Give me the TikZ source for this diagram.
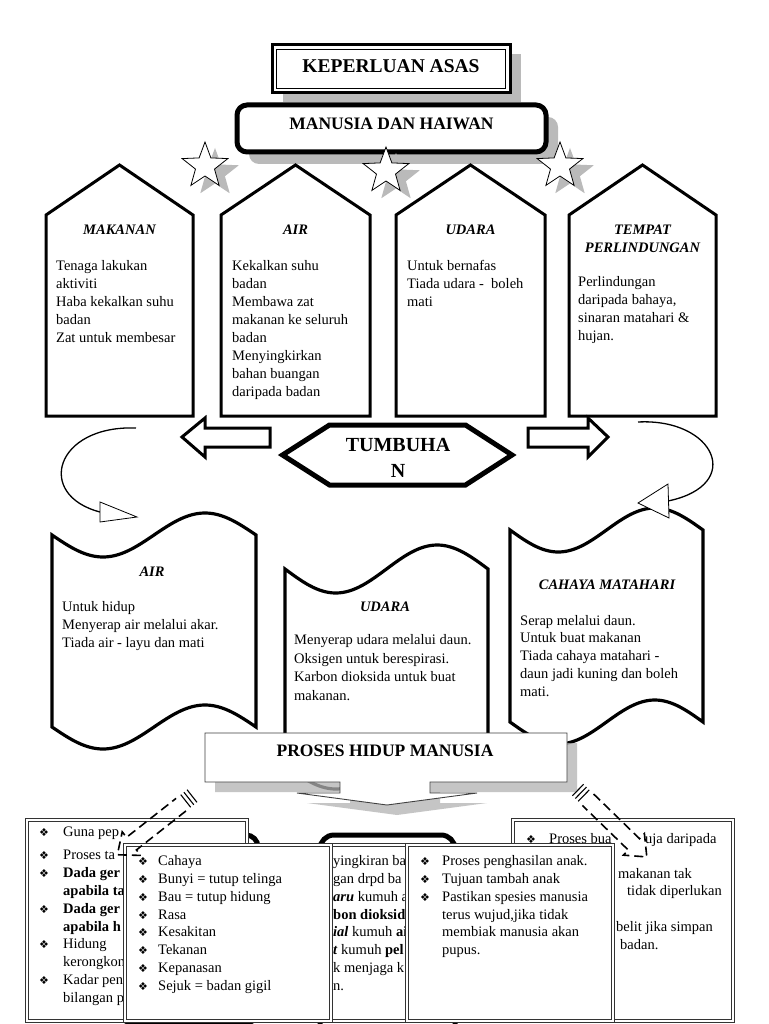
\documentclass[tikz,border=0pt]{standalone}
\usepackage{fontspec}
\setmainfont{Liberation Serif}
\newfontfamily\symfont{DejaVu Sans}
\usetikzlibrary{shapes.geometric}
\begin{document}
\begin{tikzpicture}[x=1pt,y=-1pt,
  house/.style={draw=black, line width=3pt, fill=white, line join=miter},
  wavebox/.style={draw=black, line width=3.2pt, fill=white},
  blockarrow/.style={draw=black, line width=3pt, fill=white, line join=miter},
  body/.style={font=\fontsize{14.5}{18}\selectfont, align=left, anchor=north west, inner sep=0pt},
  ttl/.style={font=\fontsize{14.5}{18}\selectfont\bfseries\itshape, align=center, inner sep=0pt},
  boldtitle/.style={font=\fontsize{17.5}{20}\selectfont\bfseries, inner sep=0pt},
  card/.style={draw=black!80, line width=1.1pt, double=white, double distance=2pt},
  ln/.style={font=\fontsize{14.5}{17.7}\selectfont, anchor=base west, inner sep=0pt},
  bul/.style={font=\symfont\fontsize{11}{11}\selectfont, anchor=base west, inner sep=0pt},
  shadowfill/.style={fill=black!27},
  dasharrow/.style={draw=black, line width=1.6pt, dash pattern=on 9pt off 5pt},
  openhead/.style={draw=black, line width=0.8pt, fill=white, line join=miter},
  curvline/.style={draw=black, line width=1.3pt},
]
\useasboundingbox (0,0) rectangle (768,1024);
\fill[white] (0,0) rectangle (768,1024);

% ---------- KEPERLUAN ASAS ----------
\fill[shadowfill] (283,54) rectangle (521,102);
\draw[line width=3pt, fill=white] (272,45) rectangle (510,93);
\draw[line width=1.2pt] (276.5,49.5) rectangle (505.5,88.5);
\node[font=\fontsize{19.5}{22}\selectfont\bfseries, inner sep=0pt] (keperluan) at (391,66) {KEPERLUAN ASAS};

% ---------- MANUSIA DAN HAIWAN ----------
\fill[shadowfill, rounded corners=10pt] (249,117) rectangle (558,164);
\draw[line width=5pt, fill=white, rounded corners=10pt] (237,105) rectangle (546,152);
\node[font=\fontsize{17.5}{20}\selectfont\bfseries, inner sep=0pt] (manusia) at (391.5,124) {MANUSIA DAN HAIWAN};

% ---------- houses ----------
\draw[house] (46,416) -- (46,215) -- (119.5,165) -- (193,215) -- (193,416) -- cycle;
\draw[house] (221,416) -- (221,215) -- (295.5,165) -- (370,215) -- (370,416) -- cycle;
\draw[house] (396,416) -- (396,215) -- (470.5,165) -- (545,215) -- (545,416) -- cycle;
\draw[house] (569,416) -- (569,215) -- (642.5,165) -- (716,215) -- (716,416) -- cycle;

% ---------- stars ----------
\foreach \sx/\sy/\n in {205/166/1, 386/171/2, 560/166/3} {
  \node[star, star points=5, star point ratio=2.4, minimum size=50pt, fill=black!27, inner sep=0pt] (starshadow\n) at (\sx+10,\sy+7) {};
  \node[star, star points=5, star point ratio=2.4, minimum size=48pt, draw=black, line width=0.8pt, fill=white, inner sep=0pt] (star\n) at (\sx,\sy) {};
}

\node[ttl] (t1) at (119.5,230) {MAKANAN};
\node[ttl] (t2) at (295.5,230) {AIR};
\node[ttl] (t3) at (470.5,230) {UDARA};
\node[ttl] (t4) at (642.5,239) {TEMPAT\\PERLINDUNGAN};

\node[body] (b1) at (56,260) {Tenaga lakukan\\aktiviti\\Haba kekalkan suhu\\badan\\Zat untuk membesar};
\node[body] (b2) at (232,260) {Kekalkan suhu\\badan\\Membawa zat\\makanan ke seluruh\\badan\\Menyingkirkan\\bahan buangan\\daripada badan};
\node[body] (b3) at (407,260) {Untuk bernafas\\Tiada udara -\ \ boleh\\mati};
\node[body] (b4) at (578,276.5) {Perlindungan\\daripada bahaya,\\sinaran matahari \&\\hujan.};

% ---------- TUMBUHAN row ----------
\draw[blockarrow] (182,437) -- (205,418) -- (205,428) -- (270,428) -- (270,447) -- (205,447) -- (205,457) -- cycle;
\draw[blockarrow] (528,428) -- (588,428) -- (588,418) -- (608,437) -- (588,457) -- (588,447) -- (528,447) -- cycle;
\draw[line width=5pt, fill=white, line join=miter] (282.5,455) -- (329.5,425) -- (465.5,425) -- (512,455) -- (465.5,485) -- (329.5,485) -- cycle;
\node[font=\fontsize{20}{22}\selectfont\bfseries, inner sep=0pt] (tumb1) at (398,445) {TUMBUHA};
\node[font=\fontsize{20}{22}\selectfont\bfseries, inner sep=0pt] (tumb2) at (398,471) {N};

% ---------- wave boxes ----------
\draw[wavebox] (52,535) sin (103,557) cos (154,535) sin (205,513) cos (256,535) -- (256,727)
   sin (205,705) cos (154,727) sin (103,749) cos (52,727) -- cycle;
\draw[wavebox] (285,569) sin (335.75,593) cos (386.5,569) sin (437.25,545) cos (488,569) -- (488,765)
   sin (437.25,741) cos (386.5,765) sin (335.75,789) cos (285,765) -- cycle;
\draw[wavebox] (510,530) sin (558.25,552) cos (606.5,530) sin (654.75,508) cos (703,530) -- (703,722)
   sin (654.75,700) cos (606.5,722) sin (558.25,744) cos (510,722) -- cycle;

\node[ttl] (w1t) at (152,572) {AIR};
\node[body] (w1b) at (62,601.3) {Untuk hidup\\Menyerap air melalui akar.\\Tiada air - layu dan mati};
\node[ttl] (w2t) at (385,607) {UDARA};
\node[body, font=\fontsize{14.5}{18.6}\selectfont] (w2b) at (294,634.3) {Menyerap udara melalui daun.\\Oksigen untuk berespirasi.\\Karbon dioksida untuk buat\\makanan.};
\node[ttl] (w3t) at (607,585) {CAHAYA MATAHARI};
\node[body, font=\fontsize{14.5}{17.7}\selectfont] (w3b) at (520,615) {Serap melalui daun.\\Untuk buat makanan\\Tiada cahaya matahari -\\daun jadi kuning dan boleh\\mati.};

% ---------- curved arrows ----------
\coordinate (c1s) at (136,428);
\coordinate (c1e) at (100,512);
\draw[curvline] (c1s) .. controls (55,425) and (35,495) .. (c1e);
\draw[openhead] (100,502) -- (137,517) -- (100,522) -- cycle;
\coordinate (c2s) at (638,422);
\coordinate (c2e) at (668,501);
\draw[curvline] (c2s) .. controls (715,418) and (745,485) .. (c2e);
\draw[openhead] (668,484) -- (638,503) -- (669,518) -- cycle;

% ---------- PROSES HIDUP MANUSIA ----------
\fill[black!30, opacity=0.75] (215,743) -- (577,743) -- (577,792) -- (440,792) -- (440,803) -- (487,803) -- (397,815) -- (307,803) -- (350,803) -- (350,792) -- (215,792) -- cycle;
\draw[draw=black!75, line width=0.9pt, fill=white] (205,733) -- (567,733) -- (567,782) -- (430,782) -- (430,793) -- (477,793) -- (387,805) -- (297,793) -- (340,793) -- (340,782) -- (205,782) -- cycle;
\node[boldtitle] (proses) at (385,751) {PROSES HIDUP MANUSIA};

% ---------- bottom cards ----------
\draw[line width=5pt, rounded corners=12pt] (120,835) rectangle (258,1023);
\draw[line width=5pt, rounded corners=14pt, fill=white] (320,835) rectangle (455,1045);
\draw[card, fill=white] (27,820) rectangle (247,1021);
\draw[card, fill=white] (513,820) rectangle (733,1021);

% box A
\node[bul] (a1) at (39,836.3) {❖};
\node[ln] (a1t) at (63,836.3) {Guna pep};
\node[bul] (a2) at (39,859.3) {❖};
\node[ln] (a2t) at (63,859.3) {Proses ta};
\node[bul] (a3) at (39,877.3) {❖};
\node[ln, font=\fontsize{14.5}{17.7}\selectfont\bfseries] (a3t) at (63,877.3) {Dada ger};
\node[ln, font=\fontsize{14.5}{17.7}\selectfont\bfseries] (a3u) at (63,895.3) {apabila ta};
\node[bul] (a4) at (39,913.3) {❖};
\node[ln, font=\fontsize{14.5}{17.7}\selectfont\bfseries] (a4t) at (63,913.3) {Dada ger};
\node[ln, font=\fontsize{14.5}{17.7}\selectfont\bfseries] (a4u) at (63,931.3) {apabila h};
\node[bul] (a5) at (39,948.3) {❖};
\node[ln] (a5t) at (63,948.3) {Hidung};
\node[ln] (a5u) at (63,966.3) {kerongkon};
\node[bul] (a6) at (39,984.3) {❖};
\node[ln] (a6t) at (63,984.3) {Kadar pen};
\node[ln] (a6u) at (63,1002.3) {bilangan p};

% box E
\node[bul] (e1) at (526,843.3) {❖};
\node[ln] (e1t) at (549,843.3) {Proses bua};
\node[ln] (e1u) at (645,843.3) {uja daripada};
\node[ln] (e2t) at (618,878.3) {makanan tak};
\node[ln] (e3t) at (627,895.3) {tidak diperlukan};
\node[ln] (e4t) at (616,931.3) {belit jika simpan};
\node[ln] (e5t) at (620,949.3) {badan.};

% box D2 (middle)
\draw[card, fill=white] (250,845) rectangle (520,1021);
\node[ln] (m1) at (333,865.3) {yingkiran ba};
\node[ln] (m2) at (333,883.3) {gan drpd ba};
\node[ln] (m3) at (333,901.3) {\textbf{\textit{aru}} kumuh a};
\node[ln] (m4) at (333,919.3) {\textbf{bon dioksida}};
\node[ln] (m5) at (333,936.3) {\textbf{\textit{ial}} kumuh \textbf{ai}};
\node[ln] (m6) at (333,954.3) {\textbf{\textit{t}} kumuh \textbf{pel}};
\node[ln] (m7) at (333,972.3) {k menjaga k};
\node[ln] (m8) at (333,990.3) {n.};

% box B
\draw[card, fill=white] (125,845) rectangle (331,1021);
\foreach \t/\yy/\n in {Cahaya/865.3/1, Bunyi = tutup telinga/883.3/2, Bau = tutup hidung/901.3/3, Rasa/919.3/4, Kesakitan/936.3/5, Tekanan/954.3/6, Kepanasan/972.3/7, Sejuk = badan gigil/990.3/8} {
  \node[bul] (bb\n) at (138,\yy) {❖};
  \node[ln] (bt\n) at (158,\yy) {\t};
}

% box D
\draw[card, fill=white] (407,845) rectangle (613,1021);
\node[bul] (d1) at (420,865.3) {❖};
\node[ln] (d1t) at (442,865.3) {Proses penghasilan anak.};
\node[bul] (d2) at (420,883.3) {❖};
\node[ln] (d2t) at (442,883.3) {Tujuan tambah anak};
\node[bul] (d3) at (420,901.3) {❖};
\node[ln] (d3t) at (442,901.3) {Pastikan spesies manusia};
\node[ln] (d3u) at (442,919.3) {terus wujud,jika tidak};
\node[ln] (d3v) at (442,936.3) {membiak manusia akan};
\node[ln] (d3w) at (442,954.3) {pupus.};

% ---------- dashed striped arrows ----------
\begin{scope}[shift={(192,796)}, rotate=218.2]
  \draw[dasharrow] (14,-8) -- (77,-8) -- (77,-15) -- (95,0) -- (77,15) -- (77,8) -- (14,8);
  \draw[line width=1.1pt] (0,-8) -- (0,8) (4,-8) -- (4,8) (8,-8) -- (8,8);
\end{scope}
\begin{scope}[shift={(578,790)}, rotate=-44.2]
  \draw[dasharrow] (14,-8) -- (78,-8) -- (78,-15) -- (96,0) -- (78,15) -- (78,8) -- (14,8);
  \draw[line width=1.1pt] (0,-8) -- (0,8) (4,-8) -- (4,8) (8,-8) -- (8,8);
\end{scope}
\end{tikzpicture}
\end{document}
